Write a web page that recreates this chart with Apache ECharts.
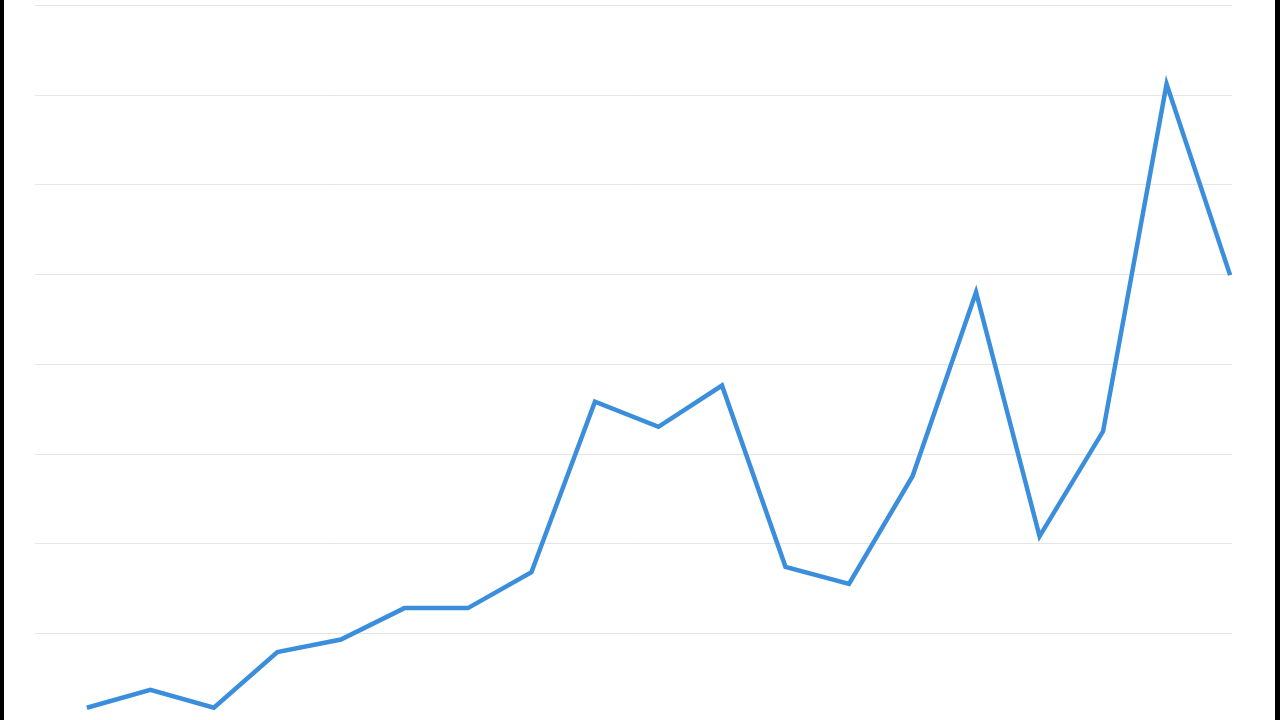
<!DOCTYPE html>
<html>
<head>
<meta charset="utf-8">
<script src="https://cdn.jsdelivr.net/npm/echarts@6/dist/echarts.min.js"></script>
<style>
  html, body { margin: 0; padding: 0; background: #fff; overflow: hidden; }
  #main { width: 1280px; height: 720px; }
  .edge { position: absolute; top: 0; width: 4px; height: 720px; background: #000; }
</style>
</head>
<body>
<div id="main"></div>
<div class="edge" style="left:0"></div>
<div class="edge" style="left:1275px;width:5px"></div>
<script>
// values, one per step
var values = [1.7, 3.7, 1.7, 7.9, 9.3, 12.8, 12.8, 16.8, 35.8, 33.0, 37.6,
              17.4, 15.5, 27.5, 48.0, 20.8, 32.5, 71.2, 49.9];
var yTicks = { min: 0, max: 80, step: 10 };

var myChart = echarts.init(document.getElementById('main'));

var data = [];
for (var i = 0; i < values.length; i++) {
    data.push([i, values[i]]);
}

var option = {
    backgroundColor: '#fff',
    animation: false,
    grid: { left: 35, right: 48, top: 5, height: 718, outerBoundsMode: 'none' },
    xAxis: {
        type: 'value',
        min: -0.816,
        max: 18.03,
        axisLine: { show: false },
        axisTick: { show: false },
        axisLabel: { show: false },
        splitLine: { show: false }
    },
    yAxis: {
        type: 'value',
        min: yTicks.min,
        max: yTicks.max,
        interval: yTicks.step,
        axisLine: { show: false },
        axisTick: { show: false },
        axisLabel: { show: false },
        splitLine: { lineStyle: { color: '#e6e6e6', width: 1 } }
    },
    series: [{
        type: 'line',
        data: data,
        showSymbol: false,
        lineStyle: { color: '#3a8edc', width: 4.5, join: 'miter' }
    }]
};

myChart.setOption(option);
window.onresize = function () {
    myChart.resize();
};
</script>
</body>
</html>
